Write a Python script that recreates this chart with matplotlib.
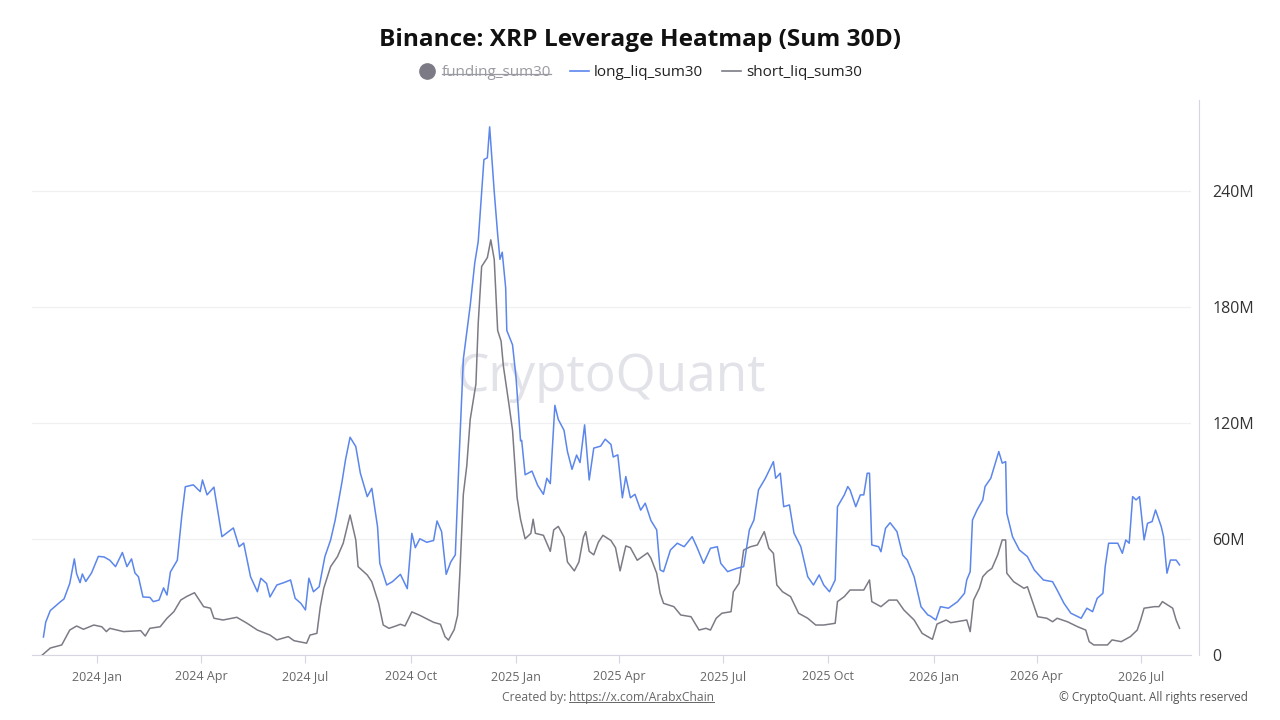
import matplotlib
matplotlib.use('Agg')
import matplotlib.pyplot as plt
import matplotlib.dates as mdates
from matplotlib.lines import Line2D
from matplotlib.ticker import FuncFormatter
import pandas as pd

# days counted from 2024-01-01, values in millions
BASE_DATE = '2024-01-01'

long_day = [-47, -45, -41, -32, -29, -24, -20, -18, -15, -13, -10, -5, 1, 6, 11, 16, 22, 26, 30, 33,
            36, 40, 46, 49, 54, 58, 61, 64, 70, 74, 77, 84, 90, 92, 96, 102, 105, 109, 113, 119,
            124, 128, 134, 140, 143, 148, 151, 157, 163, 169, 173, 178, 182, 185, 189, 194, 199, 204, 208, 214,
            217, 221, 226, 230, 236, 240, 245, 247, 253, 258, 265, 271, 275, 278, 282, 288, 294, 297, 301, 305,
            309, 313, 316, 320, 326, 330, 333, 336, 338, 341, 343, 347, 350, 352, 354, 357, 358, 363, 366, 370,
            371, 374, 380, 385, 390, 393, 396, 400, 403, 408, 411, 415, 419, 422, 426, 430, 434, 440, 444, 449,
            451, 455, 459, 462, 466, 470, 475, 479, 484, 489, 492, 495, 501, 507, 513, 520, 524, 530, 536, 542,
            545, 551, 559, 565, 570, 574, 578, 584, 591, 593, 597, 600, 605, 609, 615, 621, 626, 631, 635, 640,
            645, 647, 653, 656, 658, 663, 667, 670, 673, 675, 677, 683, 685, 689, 693, 699, 704, 708, 714, 720,
            726, 728, 733, 737, 744, 752, 758, 760, 763, 765, 769, 774, 776, 781, 784, 788, 791, 794, 795, 800,
            806, 813, 819, 827, 835, 839, 845, 851, 860, 865, 870, 874, 879, 881, 884, 892, 896, 899, 902, 905,
            908, 911, 915, 918, 922, 925, 930, 932, 935, 938, 943, 946]
long_liq = [9.3, 17, 23, 27.6, 29, 37, 49.7, 42, 37.4, 41.9, 38, 42.4, 51, 50.7, 49, 45.7, 53, 45.7, 49.7, 42.4,
            40.5, 30, 29.8, 27.6, 28.4, 34.7, 31, 43, 49, 72.4, 87, 88, 84.5, 90.5, 82.8, 86.8, 75.9, 61.2, 63, 65.7,
            56, 57.9, 40.5, 32.7, 39.7, 37, 30, 36.2, 37.4, 38.8, 29.3, 26.7, 23.3, 39.7, 32.7, 35.3, 50.9, 59.5, 69.8, 89.7,
            100.9, 112.6, 107.8, 94, 81.9, 86.2, 66.4, 47.4, 36.2, 37.9, 41.7, 34.3, 62.9, 55.5, 60.1, 58.3, 59.2, 69.3, 63.8, 41.7,
            48.1, 51.8, 97.8, 153, 180.7, 202.8, 213.8, 239.6, 256.2, 257.1, 273.1, 239.6, 217.5, 204.6, 208.3, 189.9, 167.8, 160.4, 143.9, 110.7,
            111, 93.2, 95.1, 87.7, 83.1, 91.4, 88.6, 129.1, 121.8, 116.2, 105.2, 96, 103.4, 99.5, 119, 90.5, 107, 108, 111.6, 108.9,
            102.4, 103.5, 81.3, 92.3, 81.3, 83.1, 74.9, 78.5, 69.5, 64.7, 44, 43.1, 54.3, 57.8, 56, 61.2, 56, 47.4, 55.2, 56,
            47.4, 43.1, 44.8, 45.7, 64.7, 69.8, 85.4, 91.4, 100, 91.4, 94, 76.7, 77.6, 63, 56, 40.5, 36.2, 41.4, 36.2, 32.7,
            38.8, 76.7, 82.8, 87.1, 85.4, 76.7, 82.8, 82.8, 94, 94, 56.9, 56, 53.4, 65.5, 68.4, 63.8, 51.7, 49.1, 40.5, 25,
            20.7, 20.2, 18.1, 25, 24.2, 27.6, 31.9, 38.8, 43.1, 69.8, 75, 80.2, 87.1, 91.4, 97.4, 105.2, 99.2, 100, 73.3, 61.2,
            54.3, 50.9, 44, 38.8, 37.9, 33.6, 26.7, 21.6, 19, 24.2, 22.4, 29.3, 31.9, 45.7, 57.8, 57.8, 52.6, 59.5, 57.8, 81.9,
            80.2, 81.9, 59.5, 68.1, 69, 75, 66.4, 61.2, 42.3, 49.1, 49.1, 46.6]

short_day = [-48, -41, -31, -24, -18, -12, -3, 4, 8, 11, 23, 38, 42, 46, 55, 61, 67, 73, 78, 85,
             93, 99, 102, 110, 122, 131, 140, 151, 157, 167, 172, 183, 186, 192, 195, 198, 204, 210, 215, 221,
             226, 228, 236, 240, 246, 250, 255, 261, 265, 269, 275, 282, 294, 300, 304, 307, 312, 315, 317, 320,
             323, 326, 331, 333, 336, 341, 344, 347, 350, 353, 355, 360, 363, 367, 370, 374, 379, 381, 383, 390,
             396, 399, 403, 408, 411, 417, 421, 425, 427, 430, 434, 438, 442, 449, 453, 457, 462, 466, 472, 481,
             484, 489, 492, 495, 504, 510, 519, 526, 532, 536, 541, 546, 554, 556, 561, 565, 571, 577, 583, 587,
             591, 594, 599, 606, 613, 621, 628, 635, 645, 647, 653, 658, 670, 675, 677, 685, 692, 699, 705, 714,
             721, 730, 734, 742, 746, 760, 763, 766, 771, 774, 778, 782, 787, 791, 794, 795, 801, 810, 813, 817,
             822, 830, 835, 839, 848, 857, 864, 867, 871, 883, 887, 895, 903, 909, 912, 915, 924, 928, 931, 940,
             943, 946]
short_liq = [0, 3.6, 5.2, 12.9, 15, 13.3, 15.5, 14.6, 12.1, 13.8, 12.1, 12.6, 9.8, 13.8, 14.6, 19, 22.4, 28.4, 30.2, 32.2,
             25, 24.2, 19, 18.1, 19.5, 16.4, 12.9, 10.3, 7.8, 9.5, 7.4, 6.1, 10.3, 11.2, 25, 34.5, 45.7, 50.9, 57.8, 72.4,
             59.5, 45.7, 41.4, 37.9, 26.7, 15.5, 13.8, 15, 15.9, 15, 22.3, 20.5, 16.9, 15.9, 9.5, 7.7, 13.1, 20.5, 42.6, 83.1,
             97.8, 121.8, 140.2, 171.5, 200.9, 205.5, 214.7, 204.6, 167.8, 162.3, 149.4, 129.1, 116.2, 81.3, 70.2, 60.1, 62.9, 70.2, 62.9, 61.9,
             53.6, 64.7, 66.5, 61, 48.1, 43.5, 48.1, 61, 63.8, 53.6, 51.8, 58.3, 61.9, 59.2, 55.5, 43.5, 56.4, 55.5, 49, 52.8,
             50, 42.3, 31.9, 26.7, 25, 20.7, 19.8, 12.9, 13.8, 12.9, 19, 21.6, 22.4, 32.7, 37.1, 54.3, 56, 56.9, 63.8, 55.2,
             52.6, 36.2, 32.7, 30.2, 21.6, 19, 15.5, 15.5, 16.4, 27.6, 30.2, 33.6, 33.6, 38.8, 27.6, 25, 28.4, 28.4, 23.3, 18.1,
             11.2, 8.1, 16, 18.1, 16.7, 18.1, 12.1, 28.4, 34.5, 40.5, 43.1, 44.8, 51.7, 59.5, 59.5, 42.3, 37.9, 34.5, 35.3, 28.4,
             19.8, 19, 17.2, 19, 17.2, 14.6, 12.9, 6.9, 5.2, 5.2, 7.8, 6.9, 9.5, 12.9, 18.1, 24.2, 25, 25, 27.6, 24.2,
             18.1, 13.8]

tick_dates = ['2024-01-01', '2024-04-01', '2024-07-01', '2024-10-01', '2025-01-01', '2025-04-01',
              '2025-07-01', '2025-10-01', '2026-01-01', '2026-04-01', '2026-07-01']
y_ticks = [0, 60, 120, 180, 240]

BLUE = '#5b86ec'
GRAY = '#7c7b85'
FONT = 'Open Sans'


def to_dates(days):
    return pd.Timestamp(BASE_DATE) + pd.to_timedelta(days, unit='D')


def m_label(v, pos):
    return '0' if v == 0 else '%dM' % v


def draw():
    plt.rcParams['font.family'] = [FONT, 'DejaVu Sans']
    fig = plt.figure(figsize=(12.8, 7.2), dpi=100)
    ax = fig.add_axes([32 / 1280, 65 / 720, (1191 - 32) / 1280, 555 / 720])

    ax.plot(to_dates(short_day), short_liq, color=GRAY, lw=1.1, zorder=3)
    ax.plot(to_dates(long_day), long_liq, color=BLUE, lw=1.1, zorder=4)

    ax.set_xlim(pd.Timestamp('2023-11-05'), pd.Timestamp('2026-08-14'))
    ax.set_ylim(0, 287)

    # axes look
    ax.yaxis.tick_right()
    ax.set_yticks(y_ticks)
    ax.yaxis.set_major_formatter(FuncFormatter(m_label))
    ax.tick_params(axis='y', length=0, pad=9.5, labelsize=11.5, labelcolor='#333333')
    ax.set_xticks(pd.to_datetime(tick_dates))
    ax.xaxis.set_major_formatter(mdates.DateFormatter('%Y %b'))
    ax.tick_params(axis='x', length=6, color='#d6d6e2', labelsize=9, labelcolor='#666666', pad=5)
    for lbl in ax.get_yticklabels():
        lbl.set_horizontalalignment('left')
    ax.grid(axis='y', color='#f0f0f3', lw=0.9)
    ax.set_axisbelow(True)
    for side in ['top', 'left']:
        ax.spines[side].set_visible(False)
    ax.spines['bottom'].set_color('#d6d6e2')
    ax.spines['right'].set_color('#d6d6e2')
    ax.spines['right'].set_position(('outward', 6))

    # watermark
    ax.text(0.5, 0.5, 'CryptoQuant', transform=ax.transAxes, ha='center', va='center',
            fontsize=37, color='#e2e2e9', zorder=1)

    # title and legend
    fig.text(0.5, 1 - 40 / 720, 'Binance: XRP Leverage Heatmap (Sum 30D)', ha='center', va='center',
             fontsize=17.6, fontweight='bold', color='#111111')
    handles = [Line2D([], [], marker='o', ls='none', color=GRAY, markersize=11),
               Line2D([], [], color=BLUE, lw=1.2),
               Line2D([], [], color=GRAY, lw=1.2)]
    leg = fig.legend(handles, ['funding_sum30', 'long_liq_sum30', 'short_liq_sum30'],
                     loc='center', bbox_to_anchor=(0.5, 1 - 73 / 720), ncol=3, frameon=False,
                     fontsize=11, handlelength=1.2, handletextpad=0.35, columnspacing=1.25)
    texts = leg.get_texts()
    texts[0].set_color('#9a9aa2')
    for t in texts[1:]:
        t.set_color('#222222')

    # footer
    fig.text(569 / 1280, 1 - 698 / 720, 'Created by: ', ha='right', va='center', fontsize=8.7, color='#666666')
    fig.text(569 / 1280, 1 - 698 / 720, 'https://x.com/ArabxChain', ha='left', va='center', fontsize=8.7,
             color='#666666')
    fig.text(1248 / 1280, 1 - 698 / 720, '\u00a9 CryptoQuant. All rights reserved', ha='right', va='center',
             fontsize=8.5, color='#555555')

    # strike through the hidden series and underline the link
    fig.canvas.draw()
    r = fig.canvas.get_renderer()
    inv = fig.transFigure.inverted()
    bb = texts[0].get_window_extent(r)
    (x0, y0), (x1, y1) = inv.transform([[bb.x0, bb.y0], [bb.x1, bb.y1]])
    ym = y0 + (y1 - y0) * 0.45
    fig.add_artist(Line2D([x0, x1], [ym, ym], color='#9a9aa2', lw=0.9, transform=fig.transFigure))
    link = [t for t in fig.texts if t.get_text().startswith('https')][0]
    bb = link.get_window_extent(r)
    (x0, y0), (x1, y1) = inv.transform([[bb.x0, bb.y0], [bb.x1, bb.y1]])
    fig.add_artist(Line2D([x0, x1], [y0 + 0.004, y0 + 0.004], color='#666666', lw=0.7,
                          transform=fig.transFigure))

    fig.savefig('out.png', dpi=100)


if __name__ == '__main__':
    draw()
